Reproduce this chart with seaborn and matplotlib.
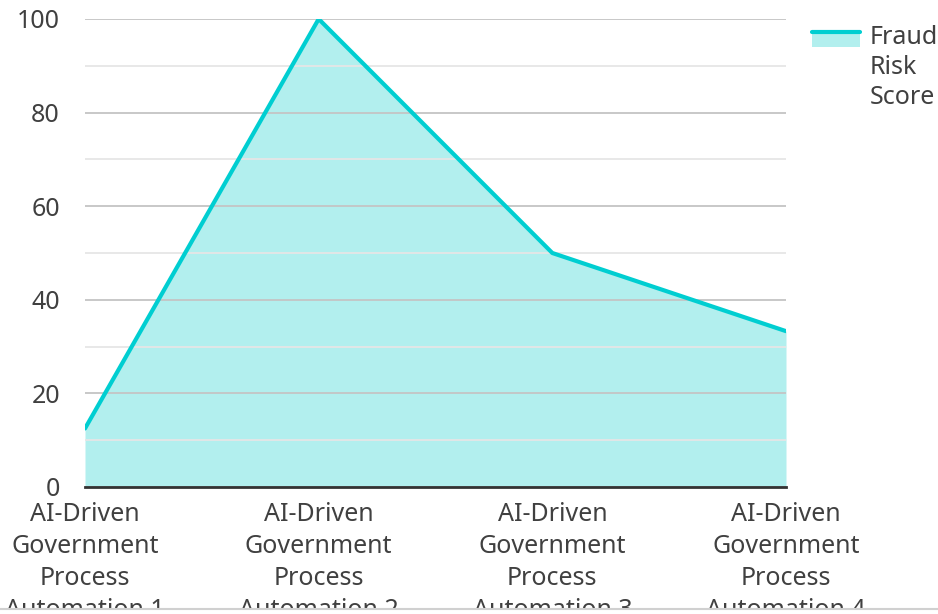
import numpy as np
import pandas as pd
import matplotlib
matplotlib.use("Agg")
import matplotlib.pyplot as plt
import seaborn as sns
from matplotlib.patches import Patch, Rectangle
from matplotlib.lines import Line2D
from matplotlib.legend_handler import HandlerBase

categories = [
    "AI-Driven Government Process Automation 1",
    "AI-Driven Government Process Automation 2",
    "AI-Driven Government Process Automation 3",
    "AI-Driven Government Process Automation 4",
]
fraud_risk = [12.5, 100, 50, 33.3]
series_name = "Fraud Risk Score"
tick_labels = ["AI-Driven\nGovernment\nProcess\nAutomation 1",
               "AI-Driven\nGovernment\nProcess\nAutomation 2",
               "AI-Driven\nGovernment\nProcess\nAutomation 3",
               "AI-Driven\nGovernment\nProcess\nAutomation 4"]

sns.set_theme(style="white")
plt.rcParams['font.family'] = ['Noto Sans', 'DejaVu Sans']

line_c = "#00CED1"
fill_c = "#B2EFEE"
text_c = "#404040"
FS = 18

df = pd.DataFrame({"pos": np.arange(len(categories)), "value": fraud_risk})

fig = plt.figure(figsize=(9.38, 6.14), dpi=100)
ax = fig.add_axes([85/938, 1-487/614, (786-85)/938, (487-19)/614])

ax.fill_between(df["pos"], df["value"], 0, color=fill_c, linewidth=0, zorder=1)
sns.lineplot(data=df, x="pos", y="value", ax=ax, color=line_c, linewidth=3, zorder=3)

ax.set_xlim(0, len(categories) - 1)
ax.set_ylim(0, 100)
ax.set_yticks(np.arange(0, 101, 20))
ax.set_yticks(np.arange(10, 100, 20), minor=True)
ax.set_axisbelow(False)
ax.yaxis.grid(True, which="major", color="#c4c4c4", linewidth=1.3, zorder=2)
ax.yaxis.grid(True, which="minor", color="#e6e6e6", linewidth=1.3, zorder=2)
for l in ax.yaxis.get_gridlines():
    l.set_zorder(2)
ax.xaxis.grid(False)

ax.set_xticks(df["pos"])
ax.set_xticklabels(tick_labels, fontsize=FS, color=text_c, linespacing=1.37, va="top")
ax.tick_params(axis="x", length=0, pad=11)
ax.tick_params(axis="y", length=0, pad=18, labelsize=FS, labelcolor=text_c, which="major")
ax.tick_params(axis="y", which="minor", length=0)

ax.set_xlabel("")
ax.set_ylabel("")
for s in ["left", "right", "top"]:
    ax.spines[s].set_visible(False)
ax.spines["bottom"].set_color("#333333")
ax.spines["bottom"].set_linewidth(2)
ax.spines["bottom"].set_zorder(4)


class TopHandler(HandlerBase):
    def __init__(self, shift, **kw):
        super().__init__(**kw)
        self.shift = shift

    def create_artists(self, legend, orig_handle, xdescent, ydescent, width, height,
                       fontsize, trans):
        base = -ydescent + self.shift * fontsize
        ph = 0.6 * fontsize
        rect = Rectangle((-xdescent, base - ph), width, ph, facecolor=fill_c,
                         edgecolor="none", transform=trans)
        ln = Line2D([-xdescent, -xdescent + width], [base, base], color=line_c,
                    linewidth=3, transform=trans)
        return [rect, ln]


handle = Patch(facecolor=fill_c)
leg = fig.legend([handle], ["Fraud\nRisk\nScore"], loc="upper left",
                 bbox_to_anchor=(789/938, 1-3/614), frameon=False, fontsize=FS,
                 handlelength=1.92, handletextpad=0.4, labelcolor=text_c,
                 handler_map={Patch: TopHandler(1.82)})
for t in leg.get_texts():
    t.set_linespacing(1.25)

fig.add_artist(Rectangle((0, 0), 1, 1-608/614, transform=fig.transFigure,
                         facecolor="white", edgecolor="none", zorder=10))
fig.add_artist(Line2D([0, 1], [1-609/614, 1-609/614], color="#d0d0d0", linewidth=1.5,
                      transform=fig.transFigure, zorder=11))

fig.savefig("out.png", dpi=100, facecolor="white")
